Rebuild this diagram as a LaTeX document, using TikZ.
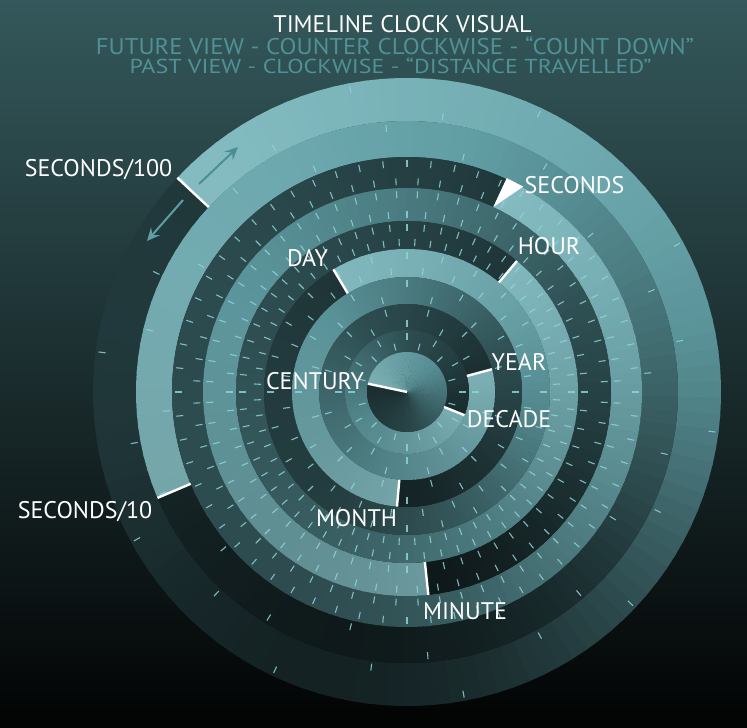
\documentclass[tikz,border=0pt]{standalone}
\usepackage{fontspec}
\setmainfont{PT Sans}
\usetikzlibrary{arrows.meta}
\definecolor{bgtop}{HTML}{34585B}
\definecolor{bgmid}{HTML}{1B2F31}
\definecolor{bgbot}{HTML}{020303}
\definecolor{subteal}{HTML}{4F9196}
\definecolor{arrteal}{HTML}{4A8F94}
\definecolor{arrteallt}{HTML}{5CA0A5}
\definecolor{tickc}{HTML}{90D3D8}
\tikzset{
  tick/.style={tickc, line width=1.1pt, opacity=0.85},
  divider/.style={white, line width=2.4pt},
  lbl/.style={white, anchor=base, inner sep=0pt, font=\fontsize{24}{28}\selectfont},
  ttl/.style={anchor=base, inner sep=0pt, font=\fontsize{24}{28}\selectfont},
  flowarrow/.style={arrteal, line width=2pt, -{Stealth[length=13pt,width=12pt,inset=5pt]}}
}
\newcommand\clockring[3]{%
  \foreach \k in {0,...,119}{%
    \pgfmathsetmacro\aS{#3-3*\k}%
    \pgfmathsetmacro\aE{\k<119 ? #3-3*\k-3.7 : #3-360}%
    \pgfmathsetmacro\t{(\k+0.5)/120}%
    \pgfmathsetmacro\vv{(314-(#1+#2)/2*sin(\aS-1.5))/628}%
    \pgfmathsetmacro\mm{1-\vv*\vv*(0.3+0.6*\t)}%
    \pgfmathtruncatemacro\cR{\mm*(\t<0.35 ? 134-36*\t/0.35 : (\t<0.7 ? 98-46*(\t-0.35)/0.35 : 52-18*(\t-0.7)/0.3))}%
    \pgfmathtruncatemacro\cG{\mm*(\t<0.35 ? 190-30*\t/0.35 : (\t<0.7 ? 160-72*(\t-0.35)/0.35 : 88-30*(\t-0.7)/0.3))}%
    \pgfmathtruncatemacro\cB{\mm*(\t<0.35 ? 195-29*\t/0.35 : (\t<0.7 ? 166-74*(\t-0.35)/0.35 : 92-31*(\t-0.7)/0.3))}%
    \definecolor{wc}{RGB}{\cR,\cG,\cB}%
    \fill[wc] (\aS:#2) arc[start angle=\aS, end angle=\aE, radius=#2] -- (\aE:#1) arc[start angle=\aE, end angle=\aS, radius=#1] -- cycle;
  }%
}
\newcommand\ringticks[4]{%
  \pgfmathsetmacro\stp{360/#3}%
  \foreach \j in {1,...,#3}{%
    \pgfmathsetmacro\ta{#4+\j*\stp}%
    \pgfmathsetmacro\tb{\ta+\stp/2}%
    \draw[tick] (\ta:{#2-3}) -- (\ta:{#2-10});
    \draw[tick] (\tb:{#1+3}) -- (\tb:{#1+10});
  }%
}
\begin{document}
\begin{tikzpicture}[x=1pt,y=1pt]
\useasboundingbox (0,0) rectangle (747,728);
\shade[top color=bgtop, middle color=bgmid, bottom color=bgbot] (0,0) rectangle (747,728);
\begin{scope}[shift={(407,336)}]
  \clockring{271}{314}{137}
  \clockring{235}{271}{203}
  \clockring{204}{235}{65}
  \clockring{171}{204}{-84}
  \clockring{143}{171}{50}
  \clockring{115}{143}{121}
  \clockring{88}{115}{-95}
  \clockring{62}{88}{15}
  \clockring{40}{62}{-22}
  \clockring{0.1}{40}{168}
  \ringticks{271}{314}{10}{28.6}
  \ringticks{235}{271}{10}{22.5}
  \ringticks{204}{235}{60}{0}
  \ringticks{171}{204}{60}{3}
  \ringticks{143}{171}{60}{0}
  \ringticks{115}{143}{24}{0}
  \ringticks{88}{115}{12}{0}
  \ringticks{62}{88}{12}{15}
  \ringticks{40}{62}{12}{0}
  \draw[divider] (168:0) -- (168:40);
  \draw[divider] (-22:40) -- (-22:62);
  \draw[divider] (15:62) -- (15:88);
  \draw[divider] (-95:88) -- (-95:115);
  \draw[divider] (121:115) -- (121:143);
  \draw[divider] (50:143) -- (50:171);
  \draw[divider] (-84:171) -- (-84:204);
  \fill[white] (65:204) -- (65:236) -- (60.5:236) -- cycle;
  \draw[divider] (203:235) -- (203:271);
  \draw[divider] (137:271) -- (137:314);
\end{scope}
\coordinate (a1s) at (199,544);
\coordinate (a1e) at (238,581);
\coordinate (a2s) at (183,528);
\coordinate (a2e) at (147,487);
\draw[flowarrow] (a1s) -- (a1e);
\draw[flowarrow, arrteallt] (a2s) -- (a2e);
\node[ttl, white] (title) at (402.5,695) {TIMELINE CLOCK VISUAL};
\node[ttl, subteal] (future) at (395,673) {\scalebox{1.03}[0.95]{FUTURE VIEW - COUNTER CLOCKWISE - “COUNT DOWN”}};
\node[ttl, subteal] (past) at (390.5,654) {\scalebox{1.0}[0.84]{PAST VIEW - CLOCKWISE - “DISTANCE TRAVELLED”}};
\node[lbl] (lsec100) at (98.5,551) {SECONDS/100};
\node[lbl] (lsec) at (574.5,534) {SECONDS};
\node[lbl] (lhour) at (549,473) {HOUR};
\node[lbl] (lday) at (307.5,461) {DAY};
\node[lbl] (lcent) at (315,338) {CENTURY};
\node[lbl] (lyear) at (519,357) {YEAR};
\node[lbl] (ldec) at (509,300) {DECADE};
\node[lbl] (lmonth) at (356.5,201) {MONTH};
\node[lbl] (lsec10) at (85,209) {SECONDS/10};
\node[lbl] (lmin) at (465,108) {MINUTE};
\end{tikzpicture}
\end{document}
